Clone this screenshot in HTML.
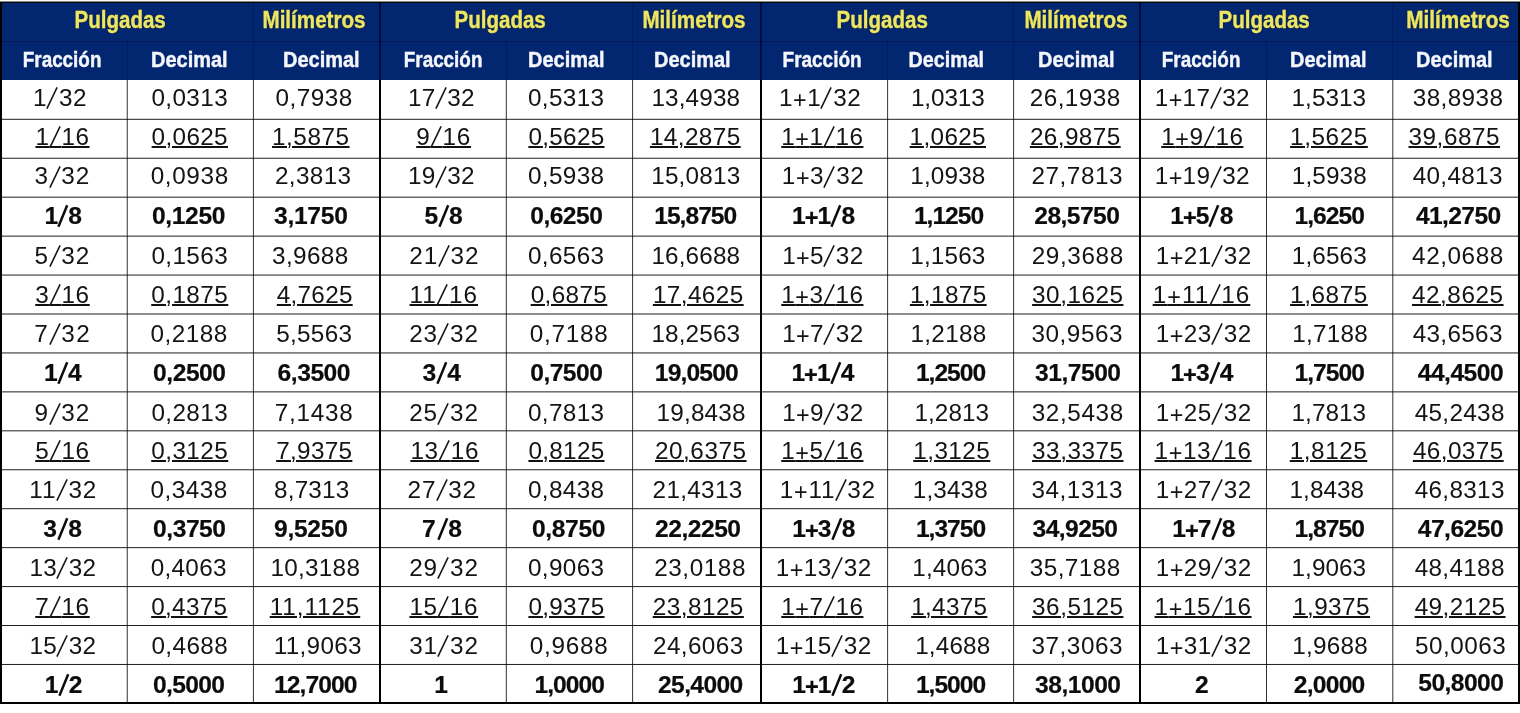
<!DOCTYPE html>
<html><head><meta charset="utf-8"><title>Pulgadas a Milímetros</title>
<style>
html,body{margin:0;padding:0;background:#fff;}
body{width:1520px;height:713px;position:relative;overflow:hidden;font-family:"Liberation Sans",sans-serif;}
.a{position:absolute;}
#t{position:absolute;left:0;top:0;width:1520px;height:713px;will-change:transform;}
.hd{position:absolute;left:0;top:2px;width:1520px;height:78px;background:#032670;}
.c{position:absolute;width:200px;height:39px;line-height:39px;text-align:center;font-size:24.3px;letter-spacing:0.5px;color:#141414;white-space:nowrap;}
.c span{position:relative;}
.u span{text-decoration:underline;text-decoration-thickness:1.5px;text-decoration-color:#111;text-underline-offset:1.2px;}
.b{font-weight:bold;font-size:24.6px;letter-spacing:-0.2px;color:#0c0c0c;-webkit-text-stroke:0.2px #0c0c0c;}
.sl{position:relative;font-style:normal;letter-spacing:5.25px;}
.b .sl{letter-spacing:4.4px;}
.sl svg{position:absolute;left:-0.7px;top:3.2px;overflow:visible;}
.b .sl svg{left:0;}
.pl{font-style:normal;font-size:0.96em;vertical-align:-1.8px;}
.h1{position:absolute;width:240px;top:2.6px;height:38px;line-height:34px;text-align:center;font-weight:bold;font-size:24.8px;color:#ebe668;-webkit-text-stroke:0.35px #ebe668;white-space:nowrap;text-shadow:0 0 2px #2a2a10,0 0 1px #2a2a10;}
.h2{position:absolute;width:200px;top:42.3px;height:38px;line-height:35px;text-align:center;font-weight:bold;font-size:22.6px;color:#f4f6fb;-webkit-text-stroke:0.45px #f4f6fb;white-space:nowrap;}
.h1 span,.h2 span{display:inline-block;transform-origin:50% 50%;}
.vt{position:absolute;top:2px;width:2px;height:702px;background:#000;}
.vn{position:absolute;top:80px;width:1px;height:623px;background:#5a5a5a;}
.vh{position:absolute;width:1px;background:#021c5c;}
.hn{position:absolute;left:0;width:1520px;height:1px;background:#5a5a5a;mix-blend-mode:multiply;}
</style></head><body>
<div class="hd"></div>
<div class="a" style="left:0;top:1px;width:1520px;height:1px;background:#868686"></div>
<div class="a" style="left:0;top:2px;width:1520px;height:1px;background:#080808"></div>
<div class="a" style="left:0;top:41px;width:1520px;height:1px;background:#021a58"></div>

<div class="vh" style="left:127px;top:42px;height:38px"></div>
<div class="vh" style="left:253px;top:42px;height:38px"></div>
<div class="vh" style="left:506px;top:42px;height:38px"></div>
<div class="vh" style="left:632px;top:42px;height:38px"></div>
<div class="vh" style="left:887px;top:42px;height:38px"></div>
<div class="vh" style="left:1013px;top:42px;height:38px"></div>
<div class="vh" style="left:1266px;top:42px;height:38px"></div>
<div class="vh" style="left:1392px;top:42px;height:38px"></div>
<div class="vh" style="left:253px;top:3px;height:38px"></div>
<div class="vh" style="left:632px;top:3px;height:38px"></div>
<div class="vh" style="left:1013px;top:3px;height:38px"></div>
<div class="vh" style="left:1392px;top:3px;height:38px"></div>
<div class="hn" style="top:118px;background:rgb(210,210,210)"></div>
<div class="hn" style="top:119px;background:rgb(75,75,75)"></div>
<div class="hn" style="top:157px;background:rgb(197,197,197)"></div>
<div class="hn" style="top:158px;background:rgb(88,88,88)"></div>
<div class="hn" style="top:196px;background:rgb(183,183,183)"></div>
<div class="hn" style="top:197px;background:rgb(102,102,102)"></div>
<div class="hn" style="top:235px;background:rgb(170,170,170)"></div>
<div class="hn" style="top:236px;background:rgb(115,115,115)"></div>
<div class="hn" style="top:274px;background:rgb(156,156,156)"></div>
<div class="hn" style="top:275px;background:rgb(129,129,129)"></div>
<div class="hn" style="top:313px;background:rgb(142,142,142)"></div>
<div class="hn" style="top:314px;background:rgb(142,142,142)"></div>
<div class="hn" style="top:352px;background:rgb(129,129,129)"></div>
<div class="hn" style="top:353px;background:rgb(156,156,156)"></div>
<div class="hn" style="top:391px;background:rgb(115,115,115)"></div>
<div class="hn" style="top:392px;background:rgb(170,170,170)"></div>
<div class="hn" style="top:430px;background:rgb(102,102,102)"></div>
<div class="hn" style="top:431px;background:rgb(183,183,183)"></div>
<div class="hn" style="top:469px;background:rgb(88,88,88)"></div>
<div class="hn" style="top:470px;background:rgb(197,197,197)"></div>
<div class="hn" style="top:508px;background:rgb(75,75,75)"></div>
<div class="hn" style="top:509px;background:rgb(210,210,210)"></div>
<div class="hn" style="top:547px;background:rgb(61,61,61)"></div>
<div class="hn" style="top:548px;background:rgb(224,224,224)"></div>
<div class="hn" style="top:586px;background:rgb(48,48,48)"></div>
<div class="hn" style="top:587px;background:rgb(237,237,237)"></div>
<div class="hn" style="top:625px;background:rgb(34,34,34)"></div>
<div class="hn" style="top:663px;background:rgb(246,246,246)"></div>
<div class="hn" style="top:664px;background:rgb(39,39,39)"></div>
<div id="t"><div class="h1" style="left:0.40px"><span style="transform:scaleX(0.8284)">Pulgadas</span></div>
<div class="h1" style="left:193.90px"><span style="transform:scaleX(0.8312)">Milímetros</span></div>
<div class="h1" style="left:380.40px"><span style="transform:scaleX(0.8284)">Pulgadas</span></div>
<div class="h1" style="left:574.50px"><span style="transform:scaleX(0.8315)">Milímetros</span></div>
<div class="h1" style="left:762.25px"><span style="transform:scaleX(0.8288)">Pulgadas</span></div>
<div class="h1" style="left:956.25px"><span style="transform:scaleX(0.8320)">Milímetros</span></div>
<div class="h1" style="left:1143.65px"><span style="transform:scaleX(0.8283)">Pulgadas</span></div>
<div class="h1" style="left:1337.65px"><span style="transform:scaleX(0.8355)">Milímetros</span></div>
<div class="h2" style="left:-37.70px"><span style="transform:scaleX(0.8350)">Fracción</span></div>
<div class="h2" style="left:89.05px"><span style="transform:scaleX(0.8838)">Decimal</span></div>
<div class="h2" style="left:220.90px"><span style="transform:scaleX(0.8839)">Decimal</span></div>
<div class="h2" style="left:343.50px"><span style="transform:scaleX(0.8350)">Fracción</span></div>
<div class="h2" style="left:465.90px"><span style="transform:scaleX(0.8839)">Decimal</span></div>
<div class="h2" style="left:592.25px"><span style="transform:scaleX(0.8838)">Decimal</span></div>
<div class="h2" style="left:722.30px"><span style="transform:scaleX(0.8395)">Fracción</span></div>
<div class="h2" style="left:846.80px"><span style="transform:scaleX(0.8716)">Decimal</span></div>
<div class="h2" style="left:976.05px"><span style="transform:scaleX(0.8838)">Decimal</span></div>
<div class="h2" style="left:1101.50px"><span style="transform:scaleX(0.8350)">Fracción</span></div>
<div class="h2" style="left:1227.90px"><span style="transform:scaleX(0.8839)">Decimal</span></div>
<div class="h2" style="left:1354.75px"><span style="transform:scaleX(0.8838)">Decimal</span></div>
<div class="c" style="left:-40.00px;top:78.00px;letter-spacing:0.50px"><span>1<i class="sl">&nbsp;<svg width="12" height="22" viewBox="0 0 12 22"><path d="M0.9 21.6 L11.1 0.3" stroke="#141414" stroke-width="1.55" fill="none"/></svg></i>32</span></div>
<div class="c" style="left:89.74px;top:78.00px;letter-spacing:0.39px"><span>0,0313</span></div>
<div class="c" style="left:214.07px;top:78.00px;letter-spacing:0.50px"><span>0,7938</span></div>
<div class="c u" style="left:-37.50px;top:116.80px;letter-spacing:0.50px"><span>1<i class="sl">&nbsp;<svg width="12" height="22" viewBox="0 0 12 22"><path d="M0.9 21.6 L11.1 0.3" stroke="#141414" stroke-width="1.55" fill="none"/></svg></i>16</span></div>
<div class="c u" style="left:89.81px;top:116.80px;letter-spacing:0.34px"><span>0,0625</span></div>
<div class="c u" style="left:210.78px;top:116.80px;letter-spacing:0.54px"><span>1,5875</span></div>
<div class="c" style="left:-37.46px;top:156.40px;letter-spacing:1.10px"><span>3<i class="sl">&nbsp;<svg width="12" height="22" viewBox="0 0 12 22"><path d="M0.9 21.6 L11.1 0.3" stroke="#141414" stroke-width="1.55" fill="none"/></svg></i>32</span></div>
<div class="c" style="left:89.76px;top:156.40px;letter-spacing:0.63px"><span>0,0938</span></div>
<div class="c" style="left:213.26px;top:156.40px;letter-spacing:0.37px"><span>2,3813</span></div>
<div class="c b" style="left:-37.28px;top:196.00px;letter-spacing:-1.00px"><span>1<i class="sl">&nbsp;<svg width="12" height="22" viewBox="0 0 12 22"><path d="M1.4 21.8 L10.2 0.2" stroke="#0c0c0c" stroke-width="2.5" fill="none"/></svg></i>8</span></div>
<div class="c b" style="left:88.53px;top:196.00px;letter-spacing:-0.33px"><span>0,1250</span></div>
<div class="c b" style="left:210.81px;top:196.00px;letter-spacing:-0.28px"><span>3,1750</span></div>
<div class="c" style="left:-37.46px;top:235.80px;letter-spacing:1.10px"><span>5<i class="sl">&nbsp;<svg width="12" height="22" viewBox="0 0 12 22"><path d="M0.9 21.6 L11.1 0.3" stroke="#141414" stroke-width="1.55" fill="none"/></svg></i>32</span></div>
<div class="c" style="left:89.74px;top:235.80px;letter-spacing:0.39px"><span>0,1563</span></div>
<div class="c" style="left:210.31px;top:235.80px;letter-spacing:0.37px"><span>3,9688</span></div>
<div class="c u" style="left:-37.52px;top:274.80px;letter-spacing:0.63px"><span>3<i class="sl">&nbsp;<svg width="12" height="22" viewBox="0 0 12 22"><path d="M0.9 21.6 L11.1 0.3" stroke="#141414" stroke-width="1.55" fill="none"/></svg></i>16</span></div>
<div class="c u" style="left:89.78px;top:274.80px;letter-spacing:0.46px"><span>0,1875</span></div>
<div class="c u" style="left:214.76px;top:274.80px;letter-spacing:0.26px"><span>4,7625</span></div>
<div class="c" style="left:-37.32px;top:313.80px;letter-spacing:1.42px"><span>7<i class="sl">&nbsp;<svg width="12" height="22" viewBox="0 0 12 22"><path d="M0.9 21.6 L11.1 0.3" stroke="#141414" stroke-width="1.55" fill="none"/></svg></i>32</span></div>
<div class="c" style="left:89.07px;top:313.80px;letter-spacing:0.50px"><span>0,2188</span></div>
<div class="c" style="left:214.26px;top:313.80px;letter-spacing:0.31px"><span>5,5563</span></div>
<div class="c b" style="left:-37.73px;top:353.00px;letter-spacing:-1.00px"><span>1<i class="sl">&nbsp;<svg width="12" height="22" viewBox="0 0 12 22"><path d="M1.4 21.8 L10.2 0.2" stroke="#0c0c0c" stroke-width="2.5" fill="none"/></svg></i>4</span></div>
<div class="c b" style="left:89.34px;top:353.00px;letter-spacing:-0.46px"><span>0,2500</span></div>
<div class="c b" style="left:213.83px;top:353.00px;letter-spacing:-0.46px"><span>6,3500</span></div>
<div class="c" style="left:-37.46px;top:393.40px;letter-spacing:1.10px"><span>9<i class="sl">&nbsp;<svg width="12" height="22" viewBox="0 0 12 22"><path d="M0.9 21.6 L11.1 0.3" stroke="#141414" stroke-width="1.55" fill="none"/></svg></i>32</span></div>
<div class="c" style="left:89.74px;top:393.40px;letter-spacing:0.39px"><span>0,2813</span></div>
<div class="c" style="left:214.05px;top:393.40px;letter-spacing:0.74px"><span>7,1438</span></div>
<div class="c u" style="left:-37.52px;top:431.00px;letter-spacing:0.63px"><span>5<i class="sl">&nbsp;<svg width="12" height="22" viewBox="0 0 12 22"><path d="M0.9 21.6 L11.1 0.3" stroke="#141414" stroke-width="1.55" fill="none"/></svg></i>16</span></div>
<div class="c u" style="left:89.78px;top:431.00px;letter-spacing:0.46px"><span>0,3125</span></div>
<div class="c u" style="left:214.28px;top:431.00px;letter-spacing:0.32px"><span>7,9375</span></div>
<div class="c" style="left:-36.72px;top:470.00px;letter-spacing:0.96px"><span>11<i class="sl">&nbsp;<svg width="12" height="22" viewBox="0 0 12 22"><path d="M0.9 21.6 L11.1 0.3" stroke="#141414" stroke-width="1.55" fill="none"/></svg></i>32</span></div>
<div class="c" style="left:89.07px;top:470.00px;letter-spacing:0.50px"><span>0,3438</span></div>
<div class="c" style="left:211.78px;top:470.00px;letter-spacing:0.23px"><span>8,7313</span></div>
<div class="c b" style="left:-37.41px;top:509.00px;letter-spacing:0.15px"><span>3<i class="sl">&nbsp;<svg width="12" height="22" viewBox="0 0 12 22"><path d="M1.4 21.8 L10.2 0.2" stroke="#0c0c0c" stroke-width="2.5" fill="none"/></svg></i>8</span></div>
<div class="c b" style="left:89.34px;top:509.00px;letter-spacing:-0.46px"><span>0,3750</span></div>
<div class="c b" style="left:210.81px;top:509.00px;letter-spacing:-0.28px"><span>9,5250</span></div>
<div class="c" style="left:-37.16px;top:548.20px;letter-spacing:0.16px"><span>13<i class="sl">&nbsp;<svg width="12" height="22" viewBox="0 0 12 22"><path d="M0.9 21.6 L11.1 0.3" stroke="#141414" stroke-width="1.55" fill="none"/></svg></i>32</span></div>
<div class="c" style="left:88.74px;top:548.20px;letter-spacing:0.29px"><span>0,4063</span></div>
<div class="c" style="left:215.33px;top:548.20px;letter-spacing:0.28px"><span>10,3188</span></div>
<div class="c u" style="left:-37.52px;top:586.80px;letter-spacing:0.63px"><span>7<i class="sl">&nbsp;<svg width="12" height="22" viewBox="0 0 12 22"><path d="M0.9 21.6 L11.1 0.3" stroke="#141414" stroke-width="1.55" fill="none"/></svg></i>16</span></div>
<div class="c u" style="left:89.28px;top:586.80px;letter-spacing:0.32px"><span>0,4375</span></div>
<div class="c u" style="left:214.98px;top:586.80px;letter-spacing:0.90px"><span>11,1125</span></div>
<div class="c" style="left:-37.16px;top:625.80px;letter-spacing:0.16px"><span>15<i class="sl">&nbsp;<svg width="12" height="22" viewBox="0 0 12 22"><path d="M0.9 21.6 L11.1 0.3" stroke="#141414" stroke-width="1.55" fill="none"/></svg></i>32</span></div>
<div class="c" style="left:89.78px;top:625.80px;letter-spacing:0.39px"><span>0,4688</span></div>
<div class="c" style="left:217.81px;top:625.80px;letter-spacing:0.27px"><span>11,9063</span></div>
<div class="c b" style="left:-36.83px;top:664.80px;letter-spacing:-1.00px"><span>1<i class="sl">&nbsp;<svg width="12" height="22" viewBox="0 0 12 22"><path d="M1.4 21.8 L10.2 0.2" stroke="#0c0c0c" stroke-width="2.5" fill="none"/></svg></i>2</span></div>
<div class="c b" style="left:88.65px;top:664.80px;letter-spacing:-0.65px"><span>0,5000</span></div>
<div class="c b" style="left:215.19px;top:664.80px;letter-spacing:-0.93px"><span>12,7000</span></div>
<div class="c" style="left:341.36px;top:78.00px;letter-spacing:0.19px"><span>17<i class="sl">&nbsp;<svg width="12" height="22" viewBox="0 0 12 22"><path d="M0.9 21.6 L11.1 0.3" stroke="#141414" stroke-width="1.55" fill="none"/></svg></i>32</span></div>
<div class="c" style="left:466.26px;top:78.00px;letter-spacing:0.37px"><span>0,5313</span></div>
<div class="c" style="left:595.83px;top:78.00px;letter-spacing:0.14px"><span>13,4938</span></div>
<div class="c u" style="left:343.62px;top:116.80px;letter-spacing:0.77px"><span>9<i class="sl">&nbsp;<svg width="12" height="22" viewBox="0 0 12 22"><path d="M0.9 21.6 L11.1 0.3" stroke="#141414" stroke-width="1.55" fill="none"/></svg></i>16</span></div>
<div class="c u" style="left:466.48px;top:116.80px;letter-spacing:0.30px"><span>0,5625</span></div>
<div class="c u" style="left:595.28px;top:116.80px;letter-spacing:0.42px"><span>14,2875</span></div>
<div class="c" style="left:341.36px;top:156.40px;letter-spacing:0.19px"><span>19<i class="sl">&nbsp;<svg width="12" height="22" viewBox="0 0 12 22"><path d="M0.9 21.6 L11.1 0.3" stroke="#141414" stroke-width="1.55" fill="none"/></svg></i>32</span></div>
<div class="c" style="left:466.26px;top:156.40px;letter-spacing:0.37px"><span>0,5938</span></div>
<div class="c" style="left:595.81px;top:156.40px;letter-spacing:0.20px"><span>15,0813</span></div>
<div class="c b" style="left:343.36px;top:196.00px;letter-spacing:-0.36px"><span>5<i class="sl">&nbsp;<svg width="12" height="22" viewBox="0 0 12 22"><path d="M1.4 21.8 L10.2 0.2" stroke="#0c0c0c" stroke-width="2.5" fill="none"/></svg></i>8</span></div>
<div class="c b" style="left:466.31px;top:196.00px;letter-spacing:-0.54px"><span>0,6250</span></div>
<div class="c b" style="left:595.22px;top:196.00px;letter-spacing:-1.00px"><span>15,8750</span></div>
<div class="c" style="left:344.40px;top:235.80px;letter-spacing:1.03px"><span>21<i class="sl">&nbsp;<svg width="12" height="22" viewBox="0 0 12 22"><path d="M0.9 21.6 L11.1 0.3" stroke="#141414" stroke-width="1.55" fill="none"/></svg></i>32</span></div>
<div class="c" style="left:466.26px;top:235.80px;letter-spacing:0.37px"><span>0,6563</span></div>
<div class="c" style="left:595.83px;top:235.80px;letter-spacing:0.14px"><span>16,6688</span></div>
<div class="c u" style="left:343.81px;top:274.80px;letter-spacing:1.06px"><span>11<i class="sl">&nbsp;<svg width="12" height="22" viewBox="0 0 12 22"><path d="M0.9 21.6 L11.1 0.3" stroke="#141414" stroke-width="1.55" fill="none"/></svg></i>16</span></div>
<div class="c u" style="left:469.00px;top:274.80px;letter-spacing:0.37px"><span>0,6875</span></div>
<div class="c u" style="left:598.28px;top:274.80px;letter-spacing:0.42px"><span>17,4625</span></div>
<div class="c" style="left:343.98px;top:313.80px;letter-spacing:0.90px"><span>23<i class="sl">&nbsp;<svg width="12" height="22" viewBox="0 0 12 22"><path d="M0.9 21.6 L11.1 0.3" stroke="#141414" stroke-width="1.55" fill="none"/></svg></i>32</span></div>
<div class="c" style="left:469.04px;top:313.80px;letter-spacing:0.74px"><span>0,7188</span></div>
<div class="c" style="left:595.83px;top:313.80px;letter-spacing:0.14px"><span>18,2563</span></div>
<div class="c b" style="left:341.67px;top:353.00px;letter-spacing:-0.25px"><span>3<i class="sl">&nbsp;<svg width="12" height="22" viewBox="0 0 12 22"><path d="M1.4 21.8 L10.2 0.2" stroke="#0c0c0c" stroke-width="2.5" fill="none"/></svg></i>4</span></div>
<div class="c b" style="left:466.31px;top:353.00px;letter-spacing:-0.54px"><span>0,7500</span></div>
<div class="c b" style="left:596.33px;top:353.00px;letter-spacing:-0.83px"><span>19,0500</span></div>
<div class="c" style="left:343.98px;top:393.40px;letter-spacing:0.90px"><span>25<i class="sl">&nbsp;<svg width="12" height="22" viewBox="0 0 12 22"><path d="M0.9 21.6 L11.1 0.3" stroke="#141414" stroke-width="1.55" fill="none"/></svg></i>32</span></div>
<div class="c" style="left:466.26px;top:393.40px;letter-spacing:0.37px"><span>0,7813</span></div>
<div class="c" style="left:601.14px;top:393.40px;letter-spacing:0.17px"><span>19,8438</span></div>
<div class="c u" style="left:344.76px;top:431.00px;letter-spacing:0.66px"><span>13<i class="sl">&nbsp;<svg width="12" height="22" viewBox="0 0 12 22"><path d="M0.9 21.6 L11.1 0.3" stroke="#141414" stroke-width="1.55" fill="none"/></svg></i>16</span></div>
<div class="c u" style="left:466.48px;top:431.00px;letter-spacing:0.30px"><span>0,8125</span></div>
<div class="c u" style="left:600.78px;top:431.00px;letter-spacing:0.53px"><span>20,6375</span></div>
<div class="c" style="left:342.26px;top:470.00px;letter-spacing:0.81px"><span>27<i class="sl">&nbsp;<svg width="12" height="22" viewBox="0 0 12 22"><path d="M0.9 21.6 L11.1 0.3" stroke="#141414" stroke-width="1.55" fill="none"/></svg></i>32</span></div>
<div class="c" style="left:466.26px;top:470.00px;letter-spacing:0.37px"><span>0,8438</span></div>
<div class="c" style="left:597.59px;top:470.00px;letter-spacing:0.30px"><span>21,4313</span></div>
<div class="c b" style="left:342.57px;top:509.00px;letter-spacing:1.35px"><span>7<i class="sl">&nbsp;<svg width="12" height="22" viewBox="0 0 12 22"><path d="M1.4 21.8 L10.2 0.2" stroke="#0c0c0c" stroke-width="2.5" fill="none"/></svg></i>8</span></div>
<div class="c b" style="left:468.52px;top:509.00px;letter-spacing:-0.33px"><span>0,8750</span></div>
<div class="c b" style="left:597.81px;top:509.00px;letter-spacing:-0.48px"><span>22,2250</span></div>
<div class="c" style="left:343.98px;top:548.20px;letter-spacing:0.90px"><span>29<i class="sl">&nbsp;<svg width="12" height="22" viewBox="0 0 12 22"><path d="M0.9 21.6 L11.1 0.3" stroke="#141414" stroke-width="1.55" fill="none"/></svg></i>32</span></div>
<div class="c" style="left:466.26px;top:548.20px;letter-spacing:0.37px"><span>0,9063</span></div>
<div class="c" style="left:600.09px;top:548.20px;letter-spacing:0.57px"><span>23,0188</span></div>
<div class="c u" style="left:343.81px;top:586.80px;letter-spacing:0.66px"><span>15<i class="sl">&nbsp;<svg width="12" height="22" viewBox="0 0 12 22"><path d="M0.9 21.6 L11.1 0.3" stroke="#141414" stroke-width="1.55" fill="none"/></svg></i>16</span></div>
<div class="c u" style="left:466.48px;top:586.80px;letter-spacing:0.30px"><span>0,9375</span></div>
<div class="c u" style="left:598.31px;top:586.80px;letter-spacing:0.47px"><span>23,8125</span></div>
<div class="c" style="left:343.98px;top:625.80px;letter-spacing:0.90px"><span>31<i class="sl">&nbsp;<svg width="12" height="22" viewBox="0 0 12 22"><path d="M0.9 21.6 L11.1 0.3" stroke="#141414" stroke-width="1.55" fill="none"/></svg></i>32</span></div>
<div class="c" style="left:469.04px;top:625.80px;letter-spacing:0.74px"><span>0,9688</span></div>
<div class="c" style="left:598.31px;top:625.80px;letter-spacing:0.40px"><span>24,6063</span></div>
<div class="c b" style="left:341.05px;top:664.80px"><span>1</span></div>
<div class="c b" style="left:469.22px;top:664.80px;letter-spacing:-1.00px"><span>1,0000</span></div>
<div class="c b" style="left:600.31px;top:664.80px;letter-spacing:-0.62px"><span>25,4000</span></div>
<div class="c" style="left:720.12px;top:78.00px;letter-spacing:0.50px"><span>1<i class="pl">+</i>1<i class="sl">&nbsp;<svg width="12" height="22" viewBox="0 0 12 22"><path d="M0.9 21.6 L11.1 0.3" stroke="#141414" stroke-width="1.55" fill="none"/></svg></i>32</span></div>
<div class="c" style="left:847.83px;top:78.00px;letter-spacing:-0.09px"><span>1,0313</span></div>
<div class="c" style="left:975.26px;top:78.00px;letter-spacing:0.47px"><span>26,1938</span></div>
<div class="c u" style="left:722.37px;top:116.80px;letter-spacing:0.50px"><span>1<i class="pl">+</i>1<i class="sl">&nbsp;<svg width="12" height="22" viewBox="0 0 12 22"><path d="M0.9 21.6 L11.1 0.3" stroke="#141414" stroke-width="1.55" fill="none"/></svg></i>16</span></div>
<div class="c u" style="left:847.81px;top:116.80px;letter-spacing:0.34px"><span>1,0625</span></div>
<div class="c u" style="left:975.29px;top:116.80px;letter-spacing:0.42px"><span>26,9875</span></div>
<div class="c" style="left:723.06px;top:156.40px;letter-spacing:0.54px"><span>1<i class="pl">+</i>3<i class="sl">&nbsp;<svg width="12" height="22" viewBox="0 0 12 22"><path d="M0.9 21.6 L11.1 0.3" stroke="#141414" stroke-width="1.55" fill="none"/></svg></i>32</span></div>
<div class="c" style="left:847.86px;top:156.40px;letter-spacing:0.15px"><span>1,0938</span></div>
<div class="c" style="left:977.29px;top:156.40px;letter-spacing:0.54px"><span>27,7813</span></div>
<div class="c b" style="left:723.17px;top:196.00px;letter-spacing:-1.00px"><span>1<i class="pl">+</i>1<i class="sl">&nbsp;<svg width="12" height="22" viewBox="0 0 12 22"><path d="M1.4 21.8 L10.2 0.2" stroke="#0c0c0c" stroke-width="2.5" fill="none"/></svg></i>8</span></div>
<div class="c b" style="left:848.55px;top:196.00px;letter-spacing:-1.00px"><span>1,1250</span></div>
<div class="c b" style="left:976.81px;top:196.00px;letter-spacing:-0.55px"><span>28,5750</span></div>
<div class="c" style="left:722.86px;top:235.80px;letter-spacing:0.34px"><span>1<i class="pl">+</i>5<i class="sl">&nbsp;<svg width="12" height="22" viewBox="0 0 12 22"><path d="M0.9 21.6 L11.1 0.3" stroke="#141414" stroke-width="1.55" fill="none"/></svg></i>32</span></div>
<div class="c" style="left:847.86px;top:235.80px;letter-spacing:0.15px"><span>1,1563</span></div>
<div class="c" style="left:977.76px;top:235.80px;letter-spacing:0.60px"><span>29,3688</span></div>
<div class="c u" style="left:722.37px;top:274.80px;letter-spacing:0.50px"><span>1<i class="pl">+</i>3<i class="sl">&nbsp;<svg width="12" height="22" viewBox="0 0 12 22"><path d="M0.9 21.6 L11.1 0.3" stroke="#141414" stroke-width="1.55" fill="none"/></svg></i>16</span></div>
<div class="c u" style="left:848.28px;top:274.80px;letter-spacing:0.41px"><span>1,1875</span></div>
<div class="c u" style="left:977.79px;top:274.80px;letter-spacing:0.50px"><span>30,1625</span></div>
<div class="c" style="left:722.86px;top:313.80px;letter-spacing:0.34px"><span>1<i class="pl">+</i>7<i class="sl">&nbsp;<svg width="12" height="22" viewBox="0 0 12 22"><path d="M0.9 21.6 L11.1 0.3" stroke="#141414" stroke-width="1.55" fill="none"/></svg></i>32</span></div>
<div class="c" style="left:848.52px;top:313.80px;letter-spacing:0.26px"><span>1,2188</span></div>
<div class="c" style="left:977.29px;top:313.80px;letter-spacing:0.54px"><span>30,9563</span></div>
<div class="c b" style="left:722.46px;top:353.00px;letter-spacing:-1.00px"><span>1<i class="pl">+</i>1<i class="sl">&nbsp;<svg width="12" height="22" viewBox="0 0 12 22"><path d="M1.4 21.8 L10.2 0.2" stroke="#0c0c0c" stroke-width="2.5" fill="none"/></svg></i>4</span></div>
<div class="c b" style="left:850.55px;top:353.00px;letter-spacing:-1.00px"><span>1,2500</span></div>
<div class="c b" style="left:977.81px;top:353.00px;letter-spacing:-0.48px"><span>31,7500</span></div>
<div class="c" style="left:722.86px;top:393.40px;letter-spacing:0.34px"><span>1<i class="pl">+</i>9<i class="sl">&nbsp;<svg width="12" height="22" viewBox="0 0 12 22"><path d="M0.9 21.6 L11.1 0.3" stroke="#141414" stroke-width="1.55" fill="none"/></svg></i>32</span></div>
<div class="c" style="left:851.81px;top:393.40px;letter-spacing:0.05px"><span>1,2813</span></div>
<div class="c" style="left:977.76px;top:393.40px;letter-spacing:0.60px"><span>32,5438</span></div>
<div class="c u" style="left:722.37px;top:431.00px;letter-spacing:0.50px"><span>1<i class="pl">+</i>5<i class="sl">&nbsp;<svg width="12" height="22" viewBox="0 0 12 22"><path d="M0.9 21.6 L11.1 0.3" stroke="#141414" stroke-width="1.55" fill="none"/></svg></i>16</span></div>
<div class="c u" style="left:851.78px;top:431.00px;letter-spacing:0.46px"><span>1,3125</span></div>
<div class="c u" style="left:977.79px;top:431.00px;letter-spacing:0.50px"><span>33,3375</span></div>
<div class="c" style="left:727.81px;top:470.00px;letter-spacing:0.79px"><span>1<i class="pl">+</i>11<i class="sl">&nbsp;<svg width="12" height="22" viewBox="0 0 12 22"><path d="M0.9 21.6 L11.1 0.3" stroke="#141414" stroke-width="1.55" fill="none"/></svg></i>32</span></div>
<div class="c" style="left:850.33px;top:470.00px;letter-spacing:0.14px"><span>1,3438</span></div>
<div class="c" style="left:977.29px;top:470.00px;letter-spacing:0.54px"><span>34,1313</span></div>
<div class="c b" style="left:723.36px;top:509.00px;letter-spacing:-0.95px"><span>1<i class="pl">+</i>3<i class="sl">&nbsp;<svg width="12" height="22" viewBox="0 0 12 22"><path d="M1.4 21.8 L10.2 0.2" stroke="#0c0c0c" stroke-width="2.5" fill="none"/></svg></i>8</span></div>
<div class="c b" style="left:850.55px;top:509.00px;letter-spacing:-1.00px"><span>1,3750</span></div>
<div class="c b" style="left:975.03px;top:509.00px;letter-spacing:-0.58px"><span>34,9250</span></div>
<div class="c" style="left:723.75px;top:548.20px;letter-spacing:0.50px"><span>1<i class="pl">+</i>13<i class="sl">&nbsp;<svg width="12" height="22" viewBox="0 0 12 22"><path d="M0.9 21.6 L11.1 0.3" stroke="#141414" stroke-width="1.55" fill="none"/></svg></i>32</span></div>
<div class="c" style="left:849.86px;top:548.20px;letter-spacing:0.15px"><span>1,4063</span></div>
<div class="c" style="left:975.26px;top:548.20px;letter-spacing:0.47px"><span>35,7188</span></div>
<div class="c u" style="left:722.37px;top:586.80px;letter-spacing:0.50px"><span>1<i class="pl">+</i>7<i class="sl">&nbsp;<svg width="12" height="22" viewBox="0 0 12 22"><path d="M0.9 21.6 L11.1 0.3" stroke="#141414" stroke-width="1.55" fill="none"/></svg></i>16</span></div>
<div class="c u" style="left:849.28px;top:586.80px;letter-spacing:0.32px"><span>1,4375</span></div>
<div class="c u" style="left:977.79px;top:586.80px;letter-spacing:0.50px"><span>36,5125</span></div>
<div class="c" style="left:723.75px;top:625.80px;letter-spacing:0.50px"><span>1<i class="pl">+</i>15<i class="sl">&nbsp;<svg width="12" height="22" viewBox="0 0 12 22"><path d="M0.9 21.6 L11.1 0.3" stroke="#141414" stroke-width="1.55" fill="none"/></svg></i>32</span></div>
<div class="c" style="left:852.81px;top:625.80px;letter-spacing:0.15px"><span>1,4688</span></div>
<div class="c" style="left:977.29px;top:625.80px;letter-spacing:0.54px"><span>37,3063</span></div>
<div class="c b" style="left:723.36px;top:664.80px;letter-spacing:-0.95px"><span>1<i class="pl">+</i>1<i class="sl">&nbsp;<svg width="12" height="22" viewBox="0 0 12 22"><path d="M1.4 21.8 L10.2 0.2" stroke="#0c0c0c" stroke-width="2.5" fill="none"/></svg></i>2</span></div>
<div class="c b" style="left:850.55px;top:664.80px;letter-spacing:-1.00px"><span>1,5000</span></div>
<div class="c b" style="left:977.81px;top:664.80px;letter-spacing:-0.48px"><span>38,1000</span></div>
<div class="c" style="left:1102.36px;top:78.00px;letter-spacing:0.31px"><span>1<i class="pl">+</i>17<i class="sl">&nbsp;<svg width="12" height="22" viewBox="0 0 12 22"><path d="M0.9 21.6 L11.1 0.3" stroke="#141414" stroke-width="1.55" fill="none"/></svg></i>32</span></div>
<div class="c" style="left:1228.86px;top:78.00px;letter-spacing:0.05px"><span>1,5313</span></div>
<div class="c" style="left:1358.07px;top:78.00px;letter-spacing:0.37px"><span>38,8938</span></div>
<div class="c u" style="left:1102.37px;top:116.80px;letter-spacing:0.50px"><span>1<i class="pl">+</i>9<i class="sl">&nbsp;<svg width="12" height="22" viewBox="0 0 12 22"><path d="M0.9 21.6 L11.1 0.3" stroke="#141414" stroke-width="1.55" fill="none"/></svg></i>16</span></div>
<div class="c u" style="left:1228.97px;top:116.80px;letter-spacing:0.57px"><span>1,5625</span></div>
<div class="c u" style="left:1354.31px;top:116.80px;letter-spacing:0.53px"><span>39,6875</span></div>
<div class="c" style="left:1102.36px;top:156.40px;letter-spacing:0.31px"><span>1<i class="pl">+</i>19<i class="sl">&nbsp;<svg width="12" height="22" viewBox="0 0 12 22"><path d="M0.9 21.6 L11.1 0.3" stroke="#141414" stroke-width="1.55" fill="none"/></svg></i>32</span></div>
<div class="c" style="left:1229.34px;top:156.40px;letter-spacing:0.13px"><span>1,5938</span></div>
<div class="c" style="left:1357.76px;top:156.40px;letter-spacing:0.33px"><span>40,4813</span></div>
<div class="c b" style="left:1101.35px;top:196.00px;letter-spacing:-1.00px"><span>1<i class="pl">+</i>5<i class="sl">&nbsp;<svg width="12" height="22" viewBox="0 0 12 22"><path d="M1.4 21.8 L10.2 0.2" stroke="#0c0c0c" stroke-width="2.5" fill="none"/></svg></i>8</span></div>
<div class="c b" style="left:1229.22px;top:196.00px;letter-spacing:-1.00px"><span>1,6250</span></div>
<div class="c b" style="left:1358.26px;top:196.00px;letter-spacing:-0.62px"><span>41,2750</span></div>
<div class="c" style="left:1103.75px;top:235.80px;letter-spacing:0.50px"><span>1<i class="pl">+</i>21<i class="sl">&nbsp;<svg width="12" height="22" viewBox="0 0 12 22"><path d="M0.9 21.6 L11.1 0.3" stroke="#141414" stroke-width="1.55" fill="none"/></svg></i>32</span></div>
<div class="c" style="left:1229.34px;top:235.80px;letter-spacing:0.13px"><span>1,6563</span></div>
<div class="c" style="left:1357.97px;top:235.80px;letter-spacing:0.57px"><span>42,0688</span></div>
<div class="c u" style="left:1101.50px;top:274.80px;letter-spacing:1.03px"><span>1<i class="pl">+</i>11<i class="sl">&nbsp;<svg width="12" height="22" viewBox="0 0 12 22"><path d="M0.9 21.6 L11.1 0.3" stroke="#141414" stroke-width="1.55" fill="none"/></svg></i>16</span></div>
<div class="c u" style="left:1228.97px;top:274.80px;letter-spacing:0.57px"><span>1,6875</span></div>
<div class="c u" style="left:1357.79px;top:274.80px;letter-spacing:0.53px"><span>42,8625</span></div>
<div class="c" style="left:1103.75px;top:313.80px;letter-spacing:0.50px"><span>1<i class="pl">+</i>23<i class="sl">&nbsp;<svg width="12" height="22" viewBox="0 0 12 22"><path d="M0.9 21.6 L11.1 0.3" stroke="#141414" stroke-width="1.55" fill="none"/></svg></i>32</span></div>
<div class="c" style="left:1230.10px;top:313.80px;letter-spacing:0.26px"><span>1,7188</span></div>
<div class="c" style="left:1357.76px;top:313.80px;letter-spacing:0.33px"><span>43,6563</span></div>
<div class="c b" style="left:1101.46px;top:353.00px;letter-spacing:-1.00px"><span>1<i class="pl">+</i>3<i class="sl">&nbsp;<svg width="12" height="22" viewBox="0 0 12 22"><path d="M1.4 21.8 L10.2 0.2" stroke="#0c0c0c" stroke-width="2.5" fill="none"/></svg></i>4</span></div>
<div class="c b" style="left:1229.22px;top:353.00px;letter-spacing:-1.00px"><span>1,7500</span></div>
<div class="c b" style="left:1360.45px;top:353.00px;letter-spacing:-0.52px"><span>44,4500</span></div>
<div class="c" style="left:1103.75px;top:393.40px;letter-spacing:0.50px"><span>1<i class="pl">+</i>25<i class="sl">&nbsp;<svg width="12" height="22" viewBox="0 0 12 22"><path d="M0.9 21.6 L11.1 0.3" stroke="#141414" stroke-width="1.55" fill="none"/></svg></i>32</span></div>
<div class="c" style="left:1228.86px;top:393.40px;letter-spacing:0.05px"><span>1,7813</span></div>
<div class="c" style="left:1359.76px;top:393.40px;letter-spacing:0.33px"><span>45,2438</span></div>
<div class="c u" style="left:1103.07px;top:431.00px;letter-spacing:0.63px"><span>1<i class="pl">+</i>13<i class="sl">&nbsp;<svg width="12" height="22" viewBox="0 0 12 22"><path d="M0.9 21.6 L11.1 0.3" stroke="#141414" stroke-width="1.55" fill="none"/></svg></i>16</span></div>
<div class="c u" style="left:1228.53px;top:431.00px;letter-spacing:0.53px"><span>1,8125</span></div>
<div class="c u" style="left:1358.29px;top:431.00px;letter-spacing:0.42px"><span>46,0375</span></div>
<div class="c" style="left:1103.75px;top:470.00px;letter-spacing:0.50px"><span>1<i class="pl">+</i>27<i class="sl">&nbsp;<svg width="12" height="22" viewBox="0 0 12 22"><path d="M0.9 21.6 L11.1 0.3" stroke="#141414" stroke-width="1.55" fill="none"/></svg></i>32</span></div>
<div class="c" style="left:1226.86px;top:470.00px;letter-spacing:0.05px"><span>1,8438</span></div>
<div class="c" style="left:1359.76px;top:470.00px;letter-spacing:0.33px"><span>46,8313</span></div>
<div class="c b" style="left:1103.36px;top:509.00px;letter-spacing:-0.95px"><span>1<i class="pl">+</i>7<i class="sl">&nbsp;<svg width="12" height="22" viewBox="0 0 12 22"><path d="M1.4 21.8 L10.2 0.2" stroke="#0c0c0c" stroke-width="2.5" fill="none"/></svg></i>8</span></div>
<div class="c b" style="left:1229.22px;top:509.00px;letter-spacing:-1.00px"><span>1,8750</span></div>
<div class="c b" style="left:1360.45px;top:509.00px;letter-spacing:-0.52px"><span>47,6250</span></div>
<div class="c" style="left:1103.75px;top:548.20px;letter-spacing:0.50px"><span>1<i class="pl">+</i>29<i class="sl">&nbsp;<svg width="12" height="22" viewBox="0 0 12 22"><path d="M0.9 21.6 L11.1 0.3" stroke="#141414" stroke-width="1.55" fill="none"/></svg></i>32</span></div>
<div class="c" style="left:1228.86px;top:548.20px;letter-spacing:0.05px"><span>1,9063</span></div>
<div class="c" style="left:1359.76px;top:548.20px;letter-spacing:0.33px"><span>48,4188</span></div>
<div class="c u" style="left:1103.07px;top:586.80px;letter-spacing:0.63px"><span>1<i class="pl">+</i>15<i class="sl">&nbsp;<svg width="12" height="22" viewBox="0 0 12 22"><path d="M0.9 21.6 L11.1 0.3" stroke="#141414" stroke-width="1.55" fill="none"/></svg></i>16</span></div>
<div class="c u" style="left:1231.50px;top:586.80px;letter-spacing:0.47px"><span>1,9375</span></div>
<div class="c u" style="left:1360.10px;top:586.80px;letter-spacing:0.44px"><span>49,2125</span></div>
<div class="c" style="left:1103.75px;top:625.80px;letter-spacing:0.50px"><span>1<i class="pl">+</i>31<i class="sl">&nbsp;<svg width="12" height="22" viewBox="0 0 12 22"><path d="M0.9 21.6 L11.1 0.3" stroke="#141414" stroke-width="1.55" fill="none"/></svg></i>32</span></div>
<div class="c" style="left:1230.10px;top:625.80px;letter-spacing:0.26px"><span>1,9688</span></div>
<div class="c" style="left:1360.57px;top:625.80px;letter-spacing:0.50px"><span>50,0063</span></div>
<div class="c b" style="left:1101.81px;top:664.80px"><span>2</span></div>
<div class="c b" style="left:1229.12px;top:664.80px;letter-spacing:-0.73px"><span>2,0000</span></div>
<div class="c b" style="left:1360.86px;top:662.60px;letter-spacing:-0.55px"><span>50,8000</span></div></div>
<div class="vn" style="left:126px;background:rgb(204,204,204);mix-blend-mode:multiply"></div>
<div class="vn" style="left:127px;background:rgb(101,101,101);mix-blend-mode:multiply"></div>
<div class="vn" style="left:252px;background:rgb(235,235,235);mix-blend-mode:multiply"></div>
<div class="vn" style="left:253px;background:rgb(70,70,70);mix-blend-mode:multiply"></div>
<div class="vn" style="left:505px;background:rgb(214,214,214);mix-blend-mode:multiply"></div>
<div class="vn" style="left:506px;background:rgb(91,91,91);mix-blend-mode:multiply"></div>
<div class="vn" style="left:632px;background:rgb(71,71,71);mix-blend-mode:multiply"></div>
<div class="vn" style="left:633px;background:rgb(234,234,234);mix-blend-mode:multiply"></div>
<div class="vn" style="left:887px;background:rgb(71,71,71);mix-blend-mode:multiply"></div>
<div class="vn" style="left:888px;background:rgb(234,234,234);mix-blend-mode:multiply"></div>
<div class="vn" style="left:1013px;background:rgb(71,71,71);mix-blend-mode:multiply"></div>
<div class="vn" style="left:1014px;background:rgb(234,234,234);mix-blend-mode:multiply"></div>
<div class="vn" style="left:1266px;background:rgb(50,50,50);mix-blend-mode:multiply"></div>
<div class="vn" style="left:1392px;background:rgb(111,111,111);mix-blend-mode:multiply"></div>
<div class="vn" style="left:1393px;background:rgb(194,194,194);mix-blend-mode:multiply"></div>
<div class="vt" style="left:0px"></div>
<div class="vt" style="left:379px"></div>
<div class="vt" style="left:760px"></div>
<div class="vt" style="left:1139px"></div>
<div class="vt" style="left:1518px"></div>
<div class="a" style="left:379px;top:3px;width:2px;height:77px;background:#010c3c"></div>
<div class="a" style="left:760px;top:3px;width:2px;height:77px;background:#010c3c"></div>
<div class="a" style="left:1139px;top:3px;width:2px;height:77px;background:#010c3c"></div>
<div class="a" style="left:0;top:702px;width:1520px;height:2px;background:#000"></div>
</body></html>
